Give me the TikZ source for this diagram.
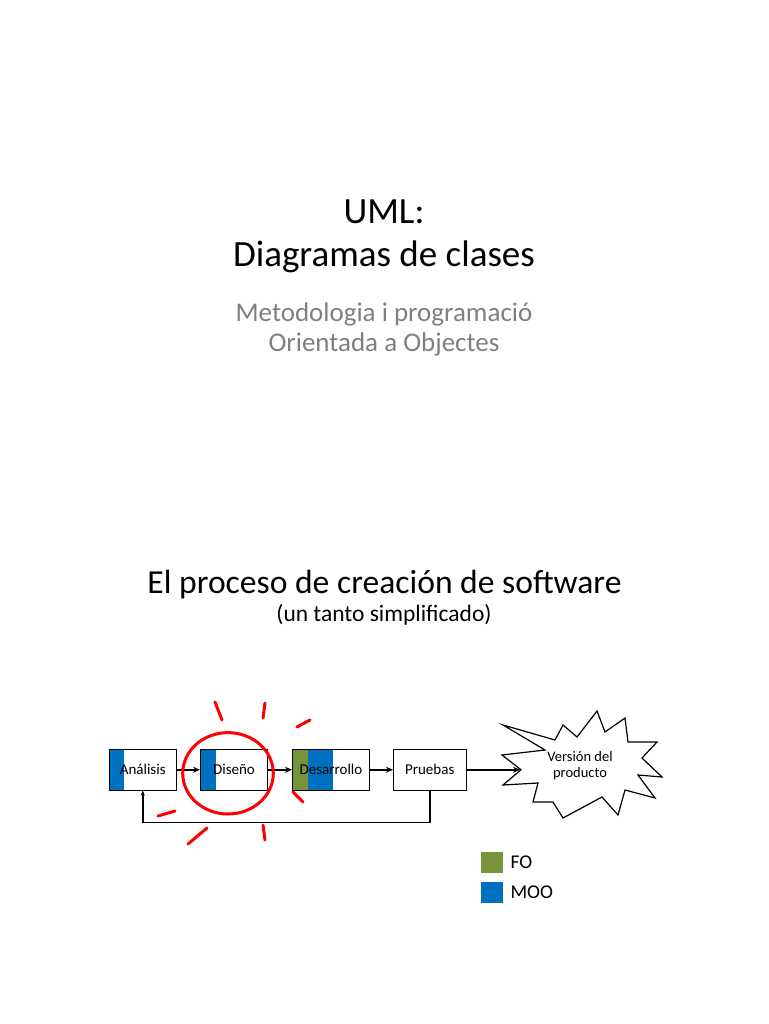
\documentclass[tikz,border=0pt]{standalone}
\usepackage{fontspec}
\setmainfont{Carlito}
\usetikzlibrary{positioning,arrows.meta}

\definecolor{moo}{HTML}{0070C0}
\definecolor{fo}{HTML}{77933C}
\definecolor{gris}{HTML}{7F7F7F}

\tikzset{
  paso/.style={draw, line width=1pt, minimum height=40.5pt, inner sep=0pt,
    font=\fontsize{15}{18}\selectfont},
  flecha/.style={line width=1.5pt, -{Stealth[length=7pt,width=6pt]}},
  marca/.style={red, line width=3pt, line cap=round},
}

\begin{document}
\begin{tikzpicture}[x=1pt, y=-1pt]
\useasboundingbox (0,0) rectangle (768,1024);

\def\yb{769.75}
\def\ytop{749.5}
\def\ybot{790}

\node[anchor=base, font=\fontsize{37}{44}\selectfont] (uml) at (384,223) {UML:};
\node[anchor=base, font=\fontsize{37}{44}\selectfont] (dia) at (384,266) {Diagramas de clases};
\node[anchor=base, gris, font=\fontsize{27}{32}\selectfont] (met) at (384,321) {Metodologia i programació};
\node[anchor=base, gris, font=\fontsize{27}{32}\selectfont] (ori) at (384,351) {Orientada a Objectes};

\node[anchor=base, font=\fontsize{33.6}{40}\selectfont] (proc) at (384.5,593) {El proceso de creación de software};
\node[anchor=base, font=\fontsize{23.5}{28}\selectfont] (simp) at (384,621) {(un tanto simplificado)};

\fill[moo] (109.5,\ytop) rectangle (124,\ybot);
\fill[moo] (200.5,\ytop) rectangle (216,\ybot);
\fill[fo] (292.5,\ytop) rectangle (308,\ybot);
\fill[moo] (308,\ytop) rectangle (333,\ybot);

\node[paso, minimum width=66.5pt] (ana) at (142.75,\yb) {Análisis};
\node[paso, minimum width=67pt] (dis) at (234,\yb) {Diseño};
\node[paso, minimum width=77pt] (des) at (331,\yb) {Desarrollo};
\node[paso, minimum width=72.5pt] (pru) at (429.75,\yb) {Pruebas};

\draw[line width=1.2pt, fill=white] (503,725) -- (555,740) -- (563,725) -- (577,737)
  -- (597,711) -- (605,732) -- (625,718) -- (628,742) -- (657,742) -- (642,758)
  -- (662,777) -- (638,775) -- (655,798) -- (625,790) -- (618,815) -- (602,797)
  -- (563,818) -- (553,802) -- (533,802) -- (538,783) -- (503,785) -- (521,\yb)
  -- (502,755) -- (545,750) -- cycle;
\coordinate (vtip) at (520,\yb);
\node[align=center, font=\fontsize{14.5}{16}\selectfont] (ver) at (580,766) {Versión del\\producto};

\draw[flecha] (ana) -- (dis);
\draw[flecha] (dis) -- (des);
\draw[flecha] (des) -- (pru);
\draw[flecha] (pru) -- (vtip);
\draw[line width=1.5pt, -{Stealth[length=5pt,width=4pt]}] (pru.south) -- ++(0,32) -| (ana.south);

\draw[marca] (228,773.3) ellipse (45.3 and 40.7);
\draw[marca] (215,702) -- (222,720);
\draw[marca] (265,703) -- (263,718);
\draw[marca] (297,727) -- (310,720);
\draw[marca] (293,792) -- (303,802);
\draw[marca] (158,816) -- (175,811);
\draw[marca] (188,844) -- (207,828);
\draw[marca] (263,825) -- (265,840);

\fill[fo] (481,852) rectangle (503,873);
\fill[moo] (481,882) rectangle (503,903);
\node[anchor=west, font=\fontsize{19.5}{23}\selectfont] (lfo) at (507,862.5) {FO};
\node[anchor=west, font=\fontsize{19.5}{23}\selectfont] (lmoo) at (507,892.5) {MOO};

\end{tikzpicture}
\end{document}
